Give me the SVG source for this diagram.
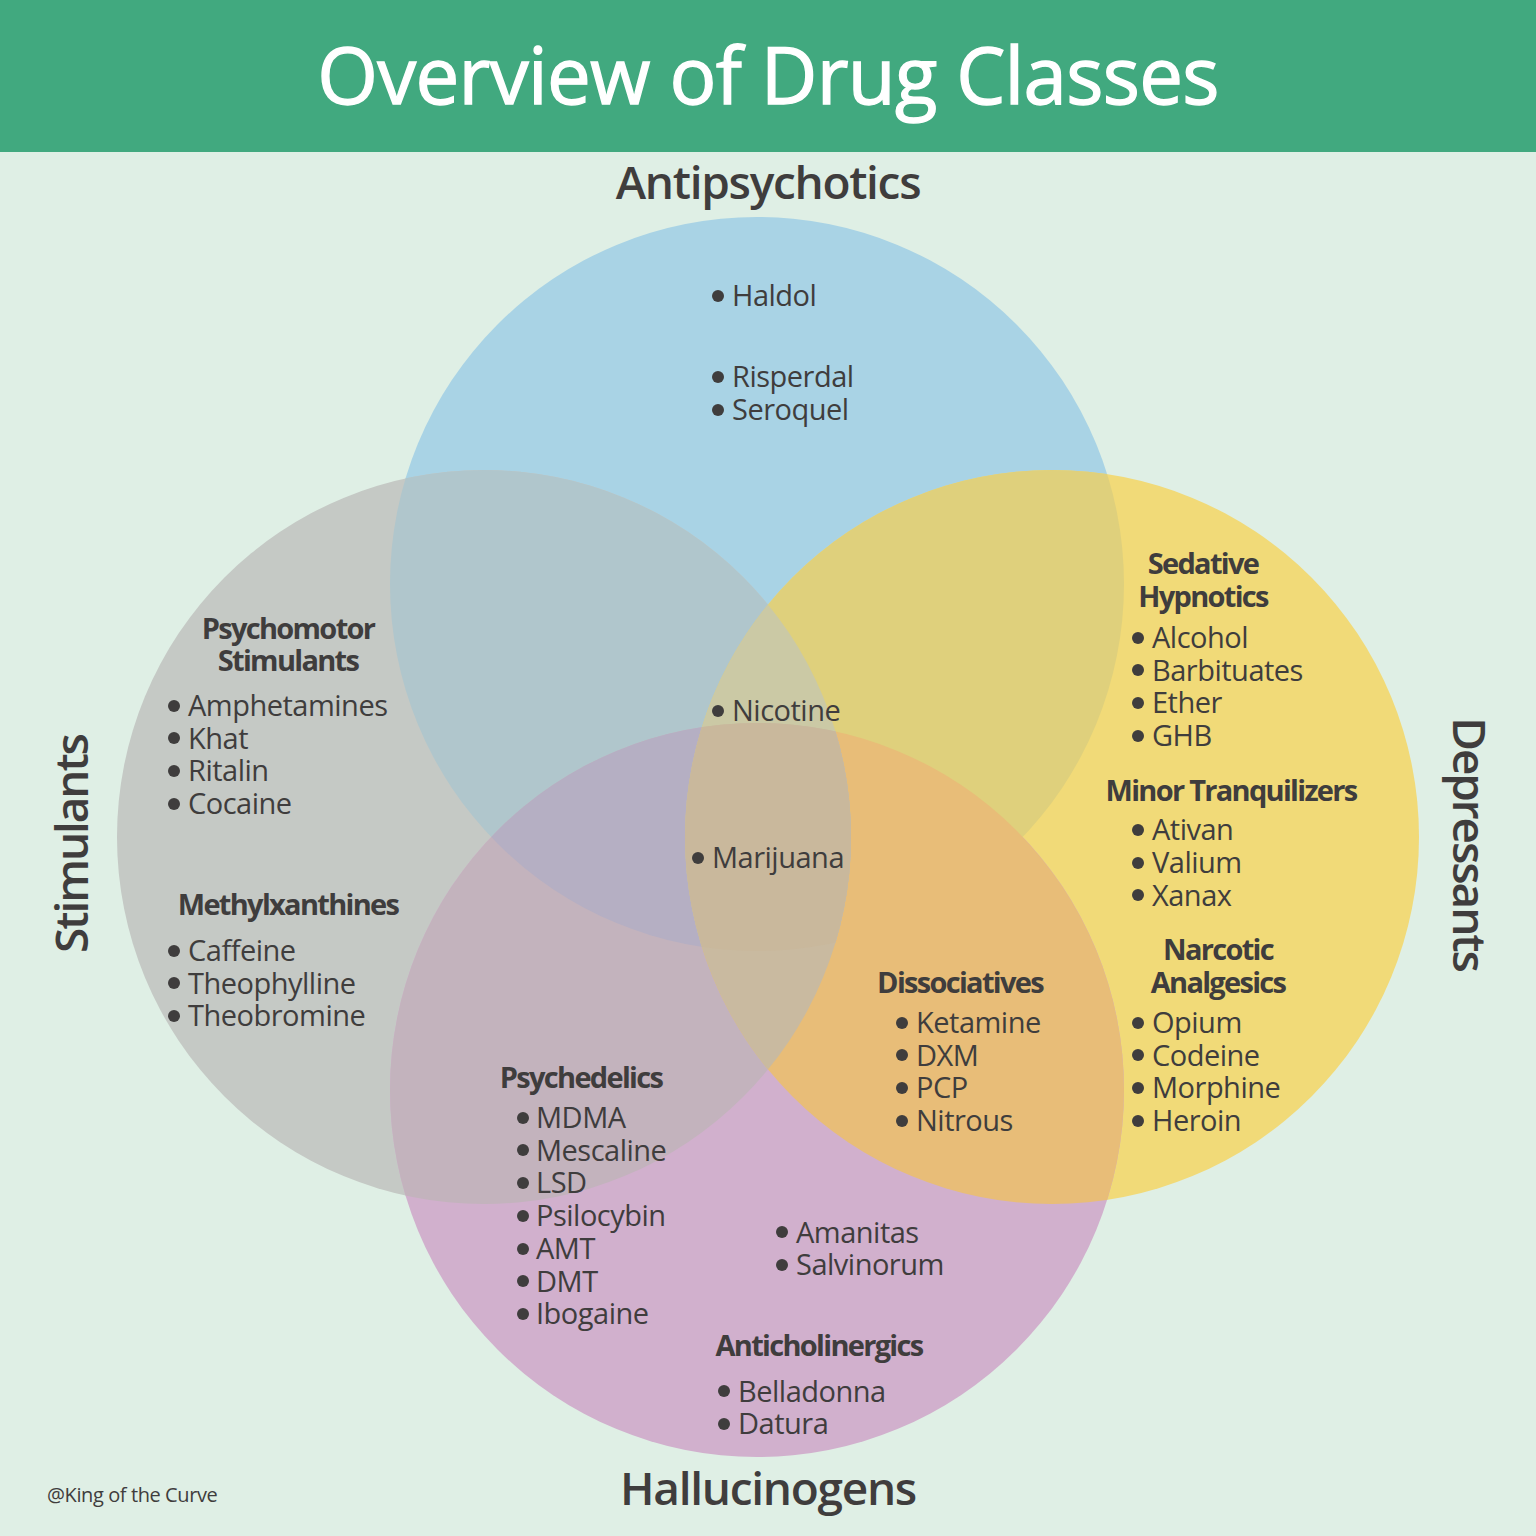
<svg xmlns="http://www.w3.org/2000/svg" width="1536" height="1536" viewBox="0 0 1536 1536">
<style>
text{font-family:"Open Sans","Noto Sans",sans-serif;fill:#3f3d3d}
.i{font-size:29px;letter-spacing:-.5px}
.h{font-size:29px;font-weight:700;text-anchor:middle;letter-spacing:-1.7px}
.t{font-size:46px;font-weight:600;text-anchor:middle;letter-spacing:-1.3px}
.s{letter-spacing:-2.1px}
.d{fill:#3f3d3d}
</style>
<rect width="1536" height="1536" fill="#dfefe5"/>
<rect width="1536" height="152" fill="#41a97f"/>
<text x="768" y="104" text-anchor="middle" style="fill:#fff;stroke:#fff;stroke-width:1.3px;font-size:78px;font-weight:400;letter-spacing:-.7px">Overview of Drug Classes</text>
<g id="circles">
<circle id="antipsychotics" cx="757" cy="584" r="367" fill="#a9d3e5"/>
<circle id="stimulants" cx="484" cy="837" r="367" fill="#c5c9c5"/>
<circle id="depressants" cx="1052" cy="837" r="367" fill="#f1da78"/>
<circle id="hallucinogens" cx="757" cy="1090" r="367" fill="#d1b0cd"/>
</g>
<defs>
<clipPath id="a"><circle cx="757" cy="584" r="367"/></clipPath>
<clipPath id="s"><circle cx="484" cy="837" r="367"/></clipPath>
<clipPath id="de"><circle cx="1052" cy="837" r="367"/></clipPath>
<clipPath id="hc"><circle cx="757" cy="1090" r="367"/></clipPath>
</defs>
<g id="overlaps">
<circle cx="484" cy="837" r="367" fill="#b0c6cc" clip-path="url(#a)"/>
<circle cx="1052" cy="837" r="367" fill="#dfd07c" clip-path="url(#a)"/>
<circle cx="757" cy="1090" r="367" fill="#c3b3bd" clip-path="url(#s)"/>
<circle cx="757" cy="1090" r="367" fill="#e8bd78" clip-path="url(#de)"/>
<g clip-path="url(#a)"><circle cx="757" cy="1090" r="367" fill="#b5afc3" clip-path="url(#s)"/></g>
<g clip-path="url(#a)"><circle cx="484" cy="837" r="367" fill="#cbc9a5" clip-path="url(#de)"/></g>
<g clip-path="url(#hc)"><circle cx="484" cy="837" r="367" fill="#c9baa0" clip-path="url(#de)"/></g>
<g clip-path="url(#a)"><g clip-path="url(#hc)"><circle cx="484" cy="837" r="367" fill="#c9b89c" clip-path="url(#de)"/></g></g>
</g>
<g id="labels">
<text class="t" x="768" y="199">Antipsychotics</text>
<text class="t" x="768" y="1505">Hallucinogens</text>
<text class="t s" transform="translate(88,844) rotate(-90)">Stimulants</text>
<text class="t s" transform="translate(1453,844) rotate(90)">Depressants</text>
<text x="47" y="1502" style="font-size:20px;letter-spacing:-.4px">@King of the Curve</text>
</g>
<g id="headings">
<text class="h" x="288" y="639">Psychomotor</text><text class="h" x="288" y="671">Stimulants</text>
<text class="h" x="288" y="915">Methylxanthines</text>
<text class="h" x="1203" y="574">Sedative</text><text class="h" x="1203" y="607">Hypnotics</text>
<text class="h" x="1231" y="801">Minor Tranquilizers</text>
<text class="h" x="1218" y="960">Narcotic</text><text class="h" x="1218" y="993">Analgesics</text>
<text class="h" x="960" y="993">Dissociatives</text>
<text class="h" x="581" y="1088">Psychedelics</text>
<text class="h" x="819" y="1356">Anticholinergics</text>
</g>
<g id="items">
<g id="n-antipsychotics"><circle class="d" cx="718" cy="296" r="6"/><text class="i" x="732" y="306">Haldol</text><circle class="d" cx="718" cy="377" r="6"/><text class="i" x="732" y="387">Risperdal</text><circle class="d" cx="718" cy="410" r="6"/><text class="i" x="732" y="420">Seroquel</text></g>
<g id="n-center"><circle class="d" cx="718" cy="711" r="6"/><text class="i" x="732" y="721">Nicotine</text><circle class="d" cx="698" cy="858" r="6"/><text class="i" x="712" y="868">Marijuana</text></g>
<g id="n-psychomotor"><circle class="d" cx="174" cy="706" r="6"/><text class="i" x="188" y="716">Amphetamines</text><circle class="d" cx="174" cy="738" r="6"/><text class="i" x="188" y="749">Khat</text><circle class="d" cx="174" cy="771" r="6"/><text class="i" x="188" y="781">Ritalin</text><circle class="d" cx="174" cy="804" r="6"/><text class="i" x="188" y="814">Cocaine</text></g>
<g id="n-methyl"><circle class="d" cx="174" cy="951" r="6"/><text class="i" x="188" y="961">Caffeine</text><circle class="d" cx="174" cy="983" r="6"/><text class="i" x="188" y="994">Theophylline</text><circle class="d" cx="174" cy="1016" r="6"/><text class="i" x="188" y="1026">Theobromine</text></g>
<g id="n-sedative"><circle class="d" cx="1138" cy="638" r="6"/><text class="i" x="1152" y="648">Alcohol</text><circle class="d" cx="1138" cy="670" r="6"/><text class="i" x="1152" y="681">Barbituates</text><circle class="d" cx="1138" cy="703" r="6"/><text class="i" x="1152" y="713">Ether</text><circle class="d" cx="1138" cy="736" r="6"/><text class="i" x="1152" y="746">GHB</text></g>
<g id="n-minor"><circle class="d" cx="1138" cy="830" r="6"/><text class="i" x="1152" y="840">Ativan</text><circle class="d" cx="1138" cy="863" r="6"/><text class="i" x="1152" y="873">Valium</text><circle class="d" cx="1138" cy="895" r="6"/><text class="i" x="1152" y="906">Xanax</text></g>
<g id="n-narcotic"><circle class="d" cx="1138" cy="1023" r="6"/><text class="i" x="1152" y="1033">Opium</text><circle class="d" cx="1138" cy="1055" r="6"/><text class="i" x="1152" y="1066">Codeine</text><circle class="d" cx="1138" cy="1088" r="6"/><text class="i" x="1152" y="1098">Morphine</text><circle class="d" cx="1138" cy="1121" r="6"/><text class="i" x="1152" y="1131">Heroin</text></g>
<g id="n-dissociatives"><circle class="d" cx="902" cy="1023" r="6"/><text class="i" x="916" y="1033">Ketamine</text><circle class="d" cx="902" cy="1055" r="6"/><text class="i" x="916" y="1066">DXM</text><circle class="d" cx="902" cy="1088" r="6"/><text class="i" x="916" y="1098">PCP</text><circle class="d" cx="902" cy="1121" r="6"/><text class="i" x="916" y="1131">Nitrous</text></g>
<g id="n-psychedelics"><circle class="d" cx="523" cy="1118" r="6"/><text class="i" x="536" y="1128">MDMA</text><circle class="d" cx="523" cy="1150" r="6"/><text class="i" x="536" y="1161">Mescaline</text><circle class="d" cx="523" cy="1183" r="6"/><text class="i" x="536" y="1193">LSD</text><circle class="d" cx="523" cy="1216" r="6"/><text class="i" x="536" y="1226">Psilocybin</text><circle class="d" cx="523" cy="1249" r="6"/><text class="i" x="536" y="1259">AMT</text><circle class="d" cx="523" cy="1281" r="6"/><text class="i" x="536" y="1292">DMT</text><circle class="d" cx="523" cy="1314" r="6"/><text class="i" x="536" y="1324">Ibogaine</text></g>
<g id="n-amanitas"><circle class="d" cx="782" cy="1232" r="6"/><text class="i" x="796" y="1243">Amanitas</text><circle class="d" cx="782" cy="1265" r="6"/><text class="i" x="796" y="1275">Salvinorum</text></g>
<g id="n-anticholinergics"><circle class="d" cx="724" cy="1391" r="6"/><text class="i" x="738" y="1402">Belladonna</text><circle class="d" cx="724" cy="1424" r="6"/><text class="i" x="738" y="1434">Datura</text></g>
</g>
</svg>
